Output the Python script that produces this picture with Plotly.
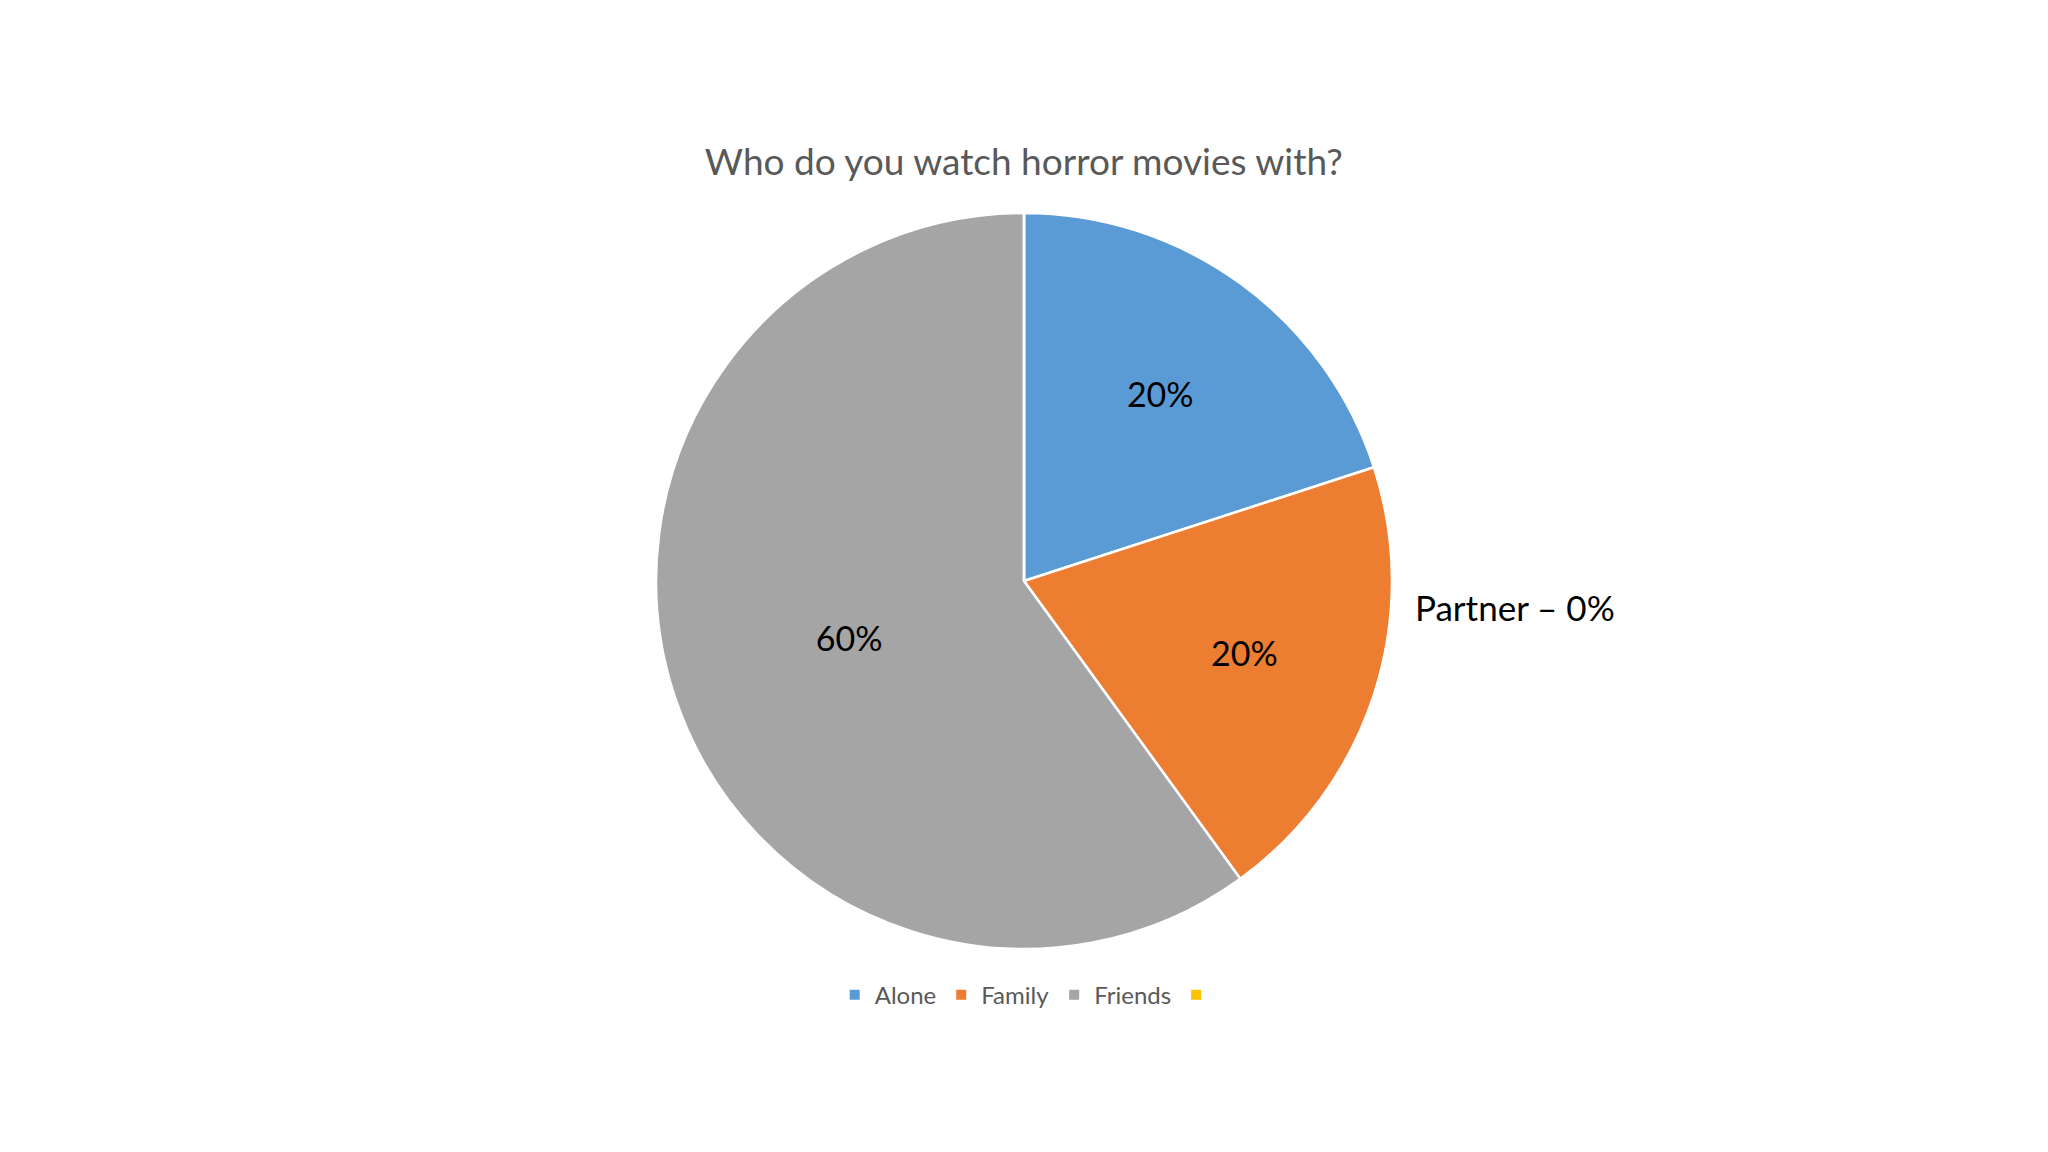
import plotly.graph_objects as go

# Data
categories = ["Alone", "Family", "Friends", " "]
shares = [20, 20, 60, 0]
slice_colors = ["#5B9BD5", "#ED7D31", "#A5A5A5", "#FFC000"]
zero_label = "Partner – 0%"

FONT = "Lato, 'Open Sans', sans-serif"

fig = go.Figure()

fig.add_trace(go.Pie(
    labels=categories,
    values=shares,
    sort=False,
    direction="clockwise",
    rotation=0,
    marker=dict(colors=slice_colors, line=dict(color="white", width=2.5)),
    texttemplate=["%{percent:.0%}", "%{percent:.0%}", "%{percent:.0%}", ""],
    textposition="inside",
    insidetextorientation="horizontal",
    textfont=dict(family=FONT, size=34, color="black"),
    # page body has an 8px margin, so the domain is nudged up/left a little
    domain=dict(x=[0.1961, 0.7961], y=[0.1832, 0.822]),
    hoverinfo="label+percent",
    showlegend=True,
))

# label for the empty Partner slice
fig.add_annotation(
    text=zero_label, x=0.736, y=0.480, xref="paper", yref="paper",
    xanchor="center", yanchor="middle",
    showarrow=False, font=dict(family=FONT, size=35, color="black"),
)

fig.update_layout(
    width=2048,
    height=1152,
    margin=dict(l=0, r=0, t=0, b=0),
    paper_bgcolor="white",
    plot_bgcolor="white",
    title=dict(
        text="Who do you watch horror movies with?",
        x=0.496, xanchor="center", y=0.866, yanchor="middle",
        font=dict(family=FONT, size=37, color="#595959"),
    ),
    legend=dict(
        orientation="h", x=0.4996, xanchor="center", y=0.143, yanchor="middle",
        font=dict(family=FONT, size=24, color="#595959"),
        itemsizing="constant", itemwidth=30,
    ),
)

fig.write_html("out.html")
